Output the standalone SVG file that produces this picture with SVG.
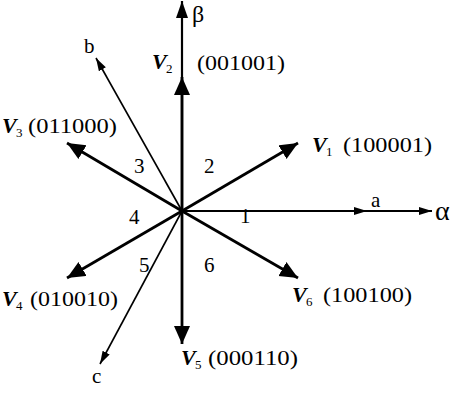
<svg xmlns="http://www.w3.org/2000/svg" width="474" height="400" viewBox="0 0 474 400">
<defs>
<marker id="big" markerUnits="userSpaceOnUse" markerWidth="20" markerHeight="18" refX="18" refY="8" orient="auto"><path d="M0,0 L18,8 L0,16 Z" fill="#000"/></marker>
<marker id="beta" markerUnits="userSpaceOnUse" markerWidth="20" markerHeight="14" refX="17" refY="6" orient="auto"><path d="M0,0 L17,6 L0,12 Z" fill="#000"/></marker>
<marker id="small" markerUnits="userSpaceOnUse" markerWidth="14" markerHeight="10" refX="13" refY="4" orient="auto"><path d="M0,0 L13,4 L0,8 Z" fill="#000"/></marker>
</defs>
<style>
.t{font-family:"Liberation Serif","Times New Roman",serif;font-size:22px;fill:#000}
.v{font-family:"Liberation Serif","Times New Roman",serif;font-size:22px;font-weight:bold;font-style:italic;fill:#000}
.s{font-family:"Liberation Serif","Times New Roman",serif;font-size:13px;fill:#000}
.n{font-family:"Liberation Serif","Times New Roman",serif;font-size:21px;fill:#000}
.vec{stroke:#000;stroke-width:2.8;fill:none;marker-end:url(#big)}
.ax{stroke:#000;stroke-width:1.8;fill:none}
</style>
<rect width="474" height="400" fill="#fff"/>
<g id="connectors">
<line class="ax" x1="182" y1="211" x2="182" y2="1" style="stroke-width:2.2" marker-end="url(#beta)"/>
<line class="ax" x1="182" y1="211" x2="432" y2="211" marker-end="url(#small)"/>
<line class="ax" x1="182" y1="211" x2="367" y2="211" marker-end="url(#small)"/>
<line class="ax" x1="182" y1="211" x2="96" y2="58" style="stroke-width:1.6" marker-end="url(#small)"/>
<line class="ax" x1="182" y1="211" x2="100" y2="364" style="stroke-width:1.6" marker-end="url(#small)"/>
<line class="vec" x1="182" y1="211" x2="298" y2="143"/>
<line class="vec" x1="182" y1="211" x2="182" y2="77"/>
<line class="vec" x1="182" y1="211" x2="67" y2="143"/>
<line class="vec" x1="182" y1="211" x2="67" y2="278"/>
<line class="vec" x1="182" y1="211" x2="182" y2="344"/>
<line class="vec" x1="182" y1="211" x2="298" y2="278"/>
</g>
<g id="axis-labels">
<text class="n" x="192" y="22" style="font-size:24px">β</text>
<text class="n" x="435" y="220" style="font-size:28px">α</text>
<text class="n" x="371" y="207">a</text>
<text class="n" x="84" y="53">b</text>
<text class="n" x="92" y="383">c</text>
</g>
<g id="sectors">
<text class="n" x="204" y="173">2</text>
<text class="n" x="134" y="173">3</text>
<text class="n" x="129" y="224">4</text>
<text class="n" x="240" y="223">1</text>
<text class="n" x="139" y="272">5</text>
<text class="n" x="204" y="272">6</text>
</g>
<g id="V1"><text class="v" x="312" y="152">V</text><text class="s" x="326" y="156">1</text><text class="t" x="343" y="152" textLength="89" lengthAdjust="spacingAndGlyphs">(100001)</text></g>
<g id="V2"><text class="v" x="152" y="69">V</text><text class="s" x="166" y="73">2</text><text class="t" x="197" y="70" textLength="88" lengthAdjust="spacingAndGlyphs">(001001)</text></g>
<g id="V3"><text class="v" x="2" y="133">V</text><text class="s" x="16" y="137">3</text><text class="t" x="28" y="133" textLength="89" lengthAdjust="spacingAndGlyphs">(011000)</text></g>
<g id="V4"><text class="v" x="2" y="306">V</text><text class="s" x="16" y="310">4</text><text class="t" x="30" y="306" textLength="88" lengthAdjust="spacingAndGlyphs">(010010)</text></g>
<g id="V5"><text class="v" x="181" y="365">V</text><text class="s" x="195" y="369">5</text><text class="t" x="208" y="365" textLength="90" lengthAdjust="spacingAndGlyphs">(000110)</text></g>
<g id="V6"><text class="v" x="292" y="302">V</text><text class="s" x="306" y="306">6</text><text class="t" x="323" y="302" textLength="89" lengthAdjust="spacingAndGlyphs">(100100)</text></g>
</svg>
